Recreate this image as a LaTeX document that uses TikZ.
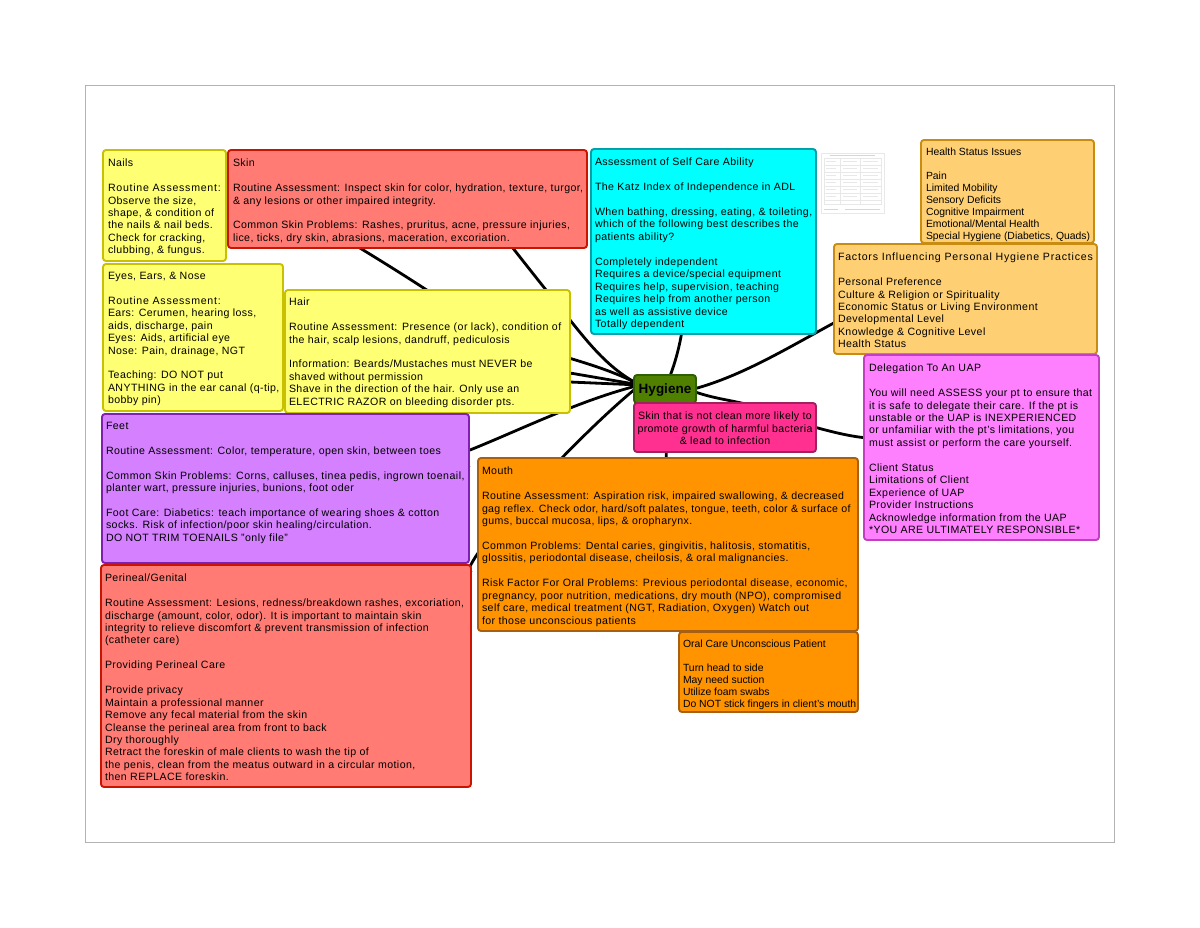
\documentclass[tikz,border=0pt]{standalone}
\usepackage{fontspec}
\setmainfont{Liberation Sans}
\usetikzlibrary{backgrounds}
\definecolor{yfill}{HTML}{FFFF73}\definecolor{ydraw}{HTML}{C8C000}
\definecolor{rfill}{HTML}{FF7B73}\definecolor{rdraw}{HTML}{C81400}
\definecolor{vfill}{HTML}{D480FF}\definecolor{vdraw}{HTML}{8020B0}
\definecolor{cfill}{HTML}{00FFFF}\definecolor{cdraw}{HTML}{00A0A8}
\definecolor{hfill}{HTML}{FFD073}\definecolor{hdraw}{HTML}{C88C10}
\definecolor{mfill}{HTML}{FF80FF}\definecolor{mdraw}{HTML}{C040C0}
\definecolor{gfill}{HTML}{508000}\definecolor{gdraw}{HTML}{2F6000}
\definecolor{pfill}{HTML}{FF3090}\definecolor{pdraw}{HTML}{A02060}
\definecolor{ofill}{HTML}{FF9400}\definecolor{odraw}{HTML}{A86010}
\tikzset{
 box/.style={rectangle,rounded corners=3pt,line width=1.9pt,outer sep=0pt,inner sep=0pt},
 ybox/.style={fill=yfill,draw=ydraw}, rbox/.style={fill=rfill,draw=rdraw},
 vbox/.style={fill=vfill,draw=vdraw}, cbox/.style={fill=cfill,draw=cdraw},
 hbox/.style={fill=hfill,draw=hdraw}, mbox/.style={fill=mfill,draw=mdraw},
 gbox/.style={fill=gfill,draw=gdraw}, pbox/.style={fill=pfill,draw=pdraw},
 obox/.style={fill=ofill,draw=odraw},
 txt/.style={anchor=north west,inner sep=0pt,outer sep=0pt,align=left,
   font=\fontsize{10.6pt}{12.45pt}\selectfont\addfontfeature{LetterSpace=3.9}},
 txtc/.style={anchor=north west,inner sep=0pt,outer sep=0pt,align=left,
   font=\fontsize{10.4pt}{12pt}\selectfont},
 link/.style={line width=2.8pt,black,line cap=round},
 thumb/.style={line width=0.7pt,black!9},
 thumbt/.style={line width=1pt,black!16}
}
\newcommand{\bx}[6]{\pgfmathsetmacro\bw{#5-#3}\pgfmathsetmacro\bh{#6-#4}%
 \node[box,#2,minimum width=\bw pt,minimum height=\bh pt,anchor=north west] (#1) at (#3,#4) {};}
\newcommand{\gap}{\\[12.45pt]}
\newcommand{\ls}[2]{{\addfontfeature{LetterSpace=#1}#2}}
\begin{document}
\begin{tikzpicture}[x=1pt,y=-1pt]
\useasboundingbox (0,0) rectangle (1200,927);
\bx{nails}{ybox}{103}{150}{226}{261}
\bx{skin}{rbox}{228}{150}{587}{248}
\bx{eyes}{ybox}{103}{264}{283}{411}
\bx{hair}{ybox}{285}{290}{570}{413}
\bx{feet}{vbox}{102}{414}{469}{563}
\bx{peri}{rbox}{101}{565}{471}{787}
\bx{assess}{cbox}{591}{149}{816}{334}
\bx{health}{hbox}{921}{140}{1094}{243}
\bx{factors}{hbox}{834}{244}{1097}{354}
\bx{deleg}{mbox}{864}{355}{1099}{540}
\bx{hygiene}{gbox}{634}{375}{696}{403}
\bx{infect}{pbox}{634}{403}{816}{452}
\bx{mouth}{obox}{478}{458}{858}{631}
\bx{oral}{obox}{679}{632}{858}{712}
\node[txt] (nailsT) at (108,159) {Nails\gap \ls{7}{Routine Assessment:}\\Observe the size,\\shape, \& condition of\\the nails \& nail beds.\\Check for cracking,\\clubbing, \& fungus.};
\node[txt] (skinT) at (233,159) {Skin\gap Routine Assessment: Inspect skin for color, hydration, texture, turgor,\\\& any lesions or other impaired integrity.\gap Common Skin Problems: Rashes, pruritus, acne, pressure injuries,\\lice, ticks, dry skin, abrasions, maceration, excoriation.};
\node[txt] (eyesT) at (108,272) {Eyes, Ears, \& Nose\gap \ls{7}{Routine Assessment:}\\Ears: Cerumen, hearing loss,\\aids, discharge, pain\\Eyes: Aids, artificial eye\\Nose: Pain, drainage, NGT\gap Teaching: DO NOT put\\ANYTHING in the ear canal (q-tip,\\bobby pin)};
\node[txt] (hairT) at (289,298) {Hair\gap \ls{4.6}{Routine Assessment: Presence (or lack), condition of}\\the hair, scalp lesions, dandruff, pediculosis\gap Information: Beards/Mustaches must NEVER be\\shaved without permission\\Shave in the direction of the hair. Only use an\\ELECTRIC RAZOR on bleeding disorder pts.};
\node[txt] (feetT) at (106,422) {Feet\gap Routine Assessment: Color, temperature, open skin, between toes\gap \ls{4.4}{Common Skin Problems: Corns, calluses, tinea pedis, ingrown toenail,}\\planter wart, pressure injuries, bunions, foot oder\gap Foot Care: Diabetics: teach importance of wearing shoes \& cotton\\socks. Risk of infection/poor skin healing/circulation.\\DO NOT TRIM TOENAILS "only file"};
\node[txt] (periT) at (105,574) {Perineal/Genital\gap Routine Assessment: Lesions, redness/breakdown rashes, excoriation,\\discharge (amount, color, odor). It is important to maintain skin\\integrity to relieve discomfort \& prevent transmission of infection\\(catheter care)\gap Providing Perineal Care\gap Provide privacy\\Maintain a professional manner\\Remove any fecal material from the skin\\Cleanse the perineal area from front to back\\Dry thoroughly\\Retract the foreskin of male clients to wash the tip of\\the penis, clean from the meatus outward in a circular motion,\\then REPLACE foreskin.};
\node[txt] (assessT) at (595,158) {Assessment of Self Care Ability\gap The Katz Index of Independence in ADL\gap When bathing, dressing, eating, \& toileting,\\which of the following best describes the\\patients ability?\gap Completely independent\\Requires a device/special equipment\\Requires help, supervision, teaching\\Requires help from another person\\as well as assistive device\\Totally dependent};
\node[txtc] (healthT) at (926,148) {Health Status Issues\gap Pain\\Limited Mobility\\Sensory Deficits\\Cognitive Impairment\\Emotional/Mental Health\\Special Hygiene (Diabetics, Quads)};
\node[txt] (factorsT) at (838,253) {\ls{7.4}{Factors Influencing Personal Hygiene Practices}\gap Personal Preference\\Culture \& Religion or Spirituality\\\ls{4.4}{Economic Status or Living Environment}\\Developmental Level\\Knowledge \& Cognitive Level\\Health Status};
\node[txt] (delegT) at (869,364) {Delegation To An UAP\gap \ls{3.5}{You will need ASSESS your pt to ensure that}\\it is safe to delegate their care. If the pt is\\unstable or the UAP is INEXPERIENCED\\or unfamiliar with the pt's limitations, you\\must assist or perform the care yourself.\gap Client Status\\Limitations of Client\\Experience of UAP\\Provider Instructions\\Acknowledge information from the UAP\\*YOU ARE ULTIMATELY RESPONSIBLE*};
\node[font=\bfseries\fontsize{13.5pt}{14pt}\selectfont,inner sep=0pt] (hygieneT) at (665,390) {Hygiene};
\node[txt,anchor=north,align=center] (infectT) at (725,412) {\ls{3.4}{Skin that is not clean more likely to}\\\ls{3.4}{promote growth of harmful bacteria}\\\& lead to infection};
\node[txt] (mouthT) at (482,467) {Mouth\gap Routine Assessment: Aspiration risk, impaired swallowing, \& decreased\\\ls{3.1}{gag reflex. Check odor, hard/soft palates, tongue, teeth, color \& surface of}\\gums, buccal mucosa, lips, \& oropharynx.\gap Common Problems: Dental caries, gingivitis, halitosis, stomatitis,\\glossitis, periodontal disease, cheilosis, \& oral malignancies.\gap Risk Factor For Oral Problems: Previous periodontal disease, economic,\\pregnancy, poor nutrition, medications, dry mouth (NPO), compromised\\self care, medical treatment (NGT, Radiation, Oxygen) Watch out\\for those unconscious patients};
\node[txtc] (oralT) at (683,640) {Oral Care Unconscious Patient\gap Turn head to side\\May need suction\\Utilize foam swabs\\Do NOT stick fingers in client's mouth};
\begin{scope}[on background layer]
\draw[line width=1pt,black!30] (85.5,85.5) rectangle (1114,842);
% thumbnail
\draw[thumb] (821,153) rectangle (884,213);
\draw[thumbt] (830,155) -- (875,155);
\draw[thumb] (824,158) rectangle (881,204);
\foreach \tx in {840,860} \draw[thumb] (\tx,158) -- (\tx,204);
\foreach \ty in {165,172,179,186,193,200} \draw[thumb] (824,\ty) -- (881,\ty);
\foreach \ty in {161,168,175,182,189,196} {\draw[thumb] (826,\ty) -- (836,\ty); \draw[thumb] (843,\ty) -- (857,\ty); \draw[thumb] (863,\ty) -- (878,\ty);}
\draw[thumbt] (824,209) -- (838,209); \draw[thumbt] (845,209) -- (880,209);
% connectors
\coordinate (hL) at (640,385);
\coordinate (hR) at (690,390);
\coordinate (sa) at (340,236);
\coordinate (sb) at (505,238);
\coordinate (fc) at (900,290);
\draw[link] (nails) -- (sa);
\draw[link] (sa) .. controls (400,272) and (430,292) .. (480,325) .. controls (520,350) and (590,358) .. (hL);
\draw[link] (sb) .. controls (530,270) and (550,295) .. (570,320) .. controls (590,345) and (610,370) .. (hL);
\draw[link] (eyes) .. controls (350,345) and (480,365) .. (570,382) -- (hL);
\draw[link] (hair) .. controls (480,360) and (520,362) .. (570,373) -- (hL);
\draw[link] (feet) .. controls (400,475) and (440,460) .. (470,450) .. controls (520,430) and (580,400) .. (hL);
\draw[link] (peri) .. controls (465,575) and (470,565) .. (478,553) .. controls (510,510) and (590,425) .. (hL);
\draw[link] (mouth) -- (hygiene);
\draw[link] (assess) .. controls (684,320) and (680,350) .. (hygiene);
\draw[link] (health) -- (fc);
\draw[link] (fc) .. controls (820,325) and (760,372) .. (hR);
\draw[link] (deleg) .. controls (845,436) and (800,425) .. (750,405) .. controls (730,400) and (710,398) .. (hR);
\draw[link] (infect) -- (hygiene);
\draw[link] (oral) -- (mouth);
\end{scope}
\end{tikzpicture}
\end{document}
